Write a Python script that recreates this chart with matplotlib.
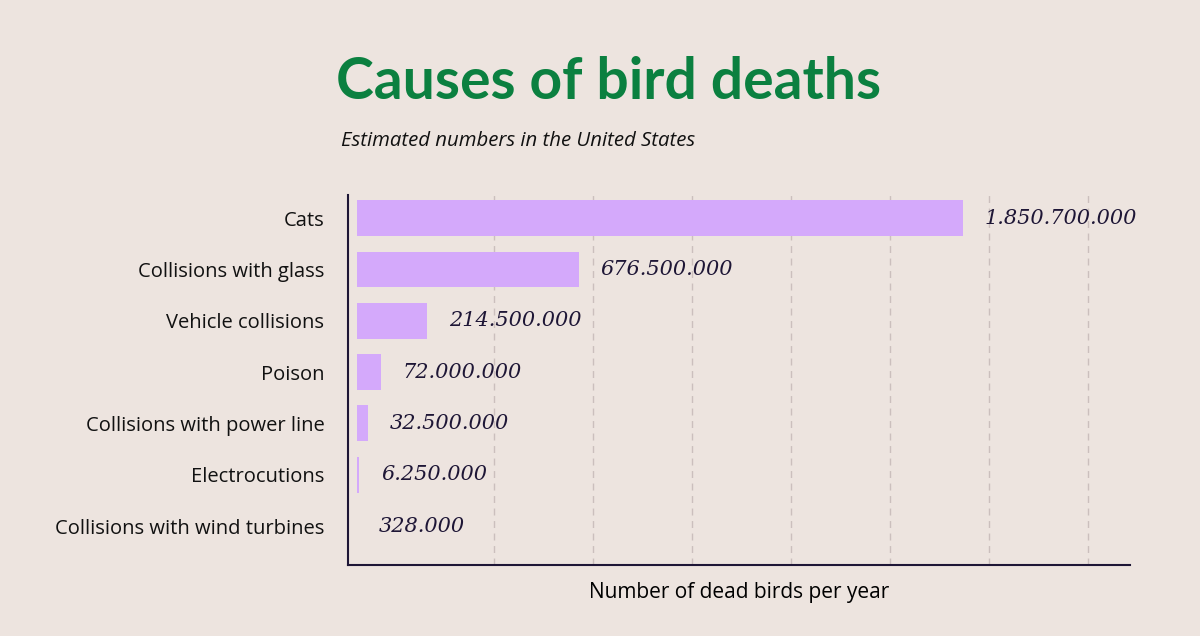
import matplotlib
matplotlib.use("Agg")
import matplotlib.pyplot as plt

categories = ["Cats", "Collisions with glass", "Vehicle collisions", "Poison",
              "Collisions with power line", "Electrocutions", "Collisions with wind turbines"]
values = [1850700000, 676500000, 214500000, 72000000, 32500000, 6250000, 328000]
labels = ["1.850.700.000", "676.500.000", "214.500.000", "72.000.000",
          "32.500.000", "6.250.000", "328.000"]

bg = "#EDE4DF"
fig = plt.figure(figsize=(12, 6.36), dpi=100, facecolor=bg)
ax = fig.add_axes([0.29, 0.1116, 0.6517, 0.5817], facecolor=bg)
ypos = list(range(len(categories)))
ax.barh(ypos, values, height=0.7, color="#D4A9FB", zorder=2)
per_px = 3.054e6
ax.set_xlim(-9 * per_px, 773 * per_px)
ax.set_ylim(6.76, -0.45)
for k in range(7):
    ax.axvline((137 + 99 * k) * per_px, color="#cbbfbd", ls=(0, (5, 4)), lw=1, zorder=1)
for y, v, l in zip(ypos, values, labels):
    ax.text(v + 22 * per_px, y, l, va="center", ha="left", fontsize=15,
            family="DejaVu Serif", style="italic", color="#1e1636")
ax.set_yticks(ypos)
ax.set_yticklabels(categories, fontsize=14.5, family="Open Sans", color="#111")
ax.tick_params(axis="y", length=0, pad=17)
ax.set_xticks([])
for s in ["top", "right"]:
    ax.spines[s].set_visible(False)
for s in ["left", "bottom"]:
    ax.spines[s].set_color("#1e1636")
    ax.spines[s].set_linewidth(1.5)
ax.set_xlabel("Number of dead birds per year", fontsize=15, family="Open Sans", labelpad=12)
fig.text(0.28, 0.87, "Causes of bird deaths", fontsize=41, fontweight="bold",
         family="Lato", color="#0B8040", va="center")
fig.text(0.284, 0.778, "Estimated numbers in the United States", fontsize=14.7,
         family="Open Sans", style="italic", color="#111", va="center")
fig.savefig("out.png", facecolor=bg)
